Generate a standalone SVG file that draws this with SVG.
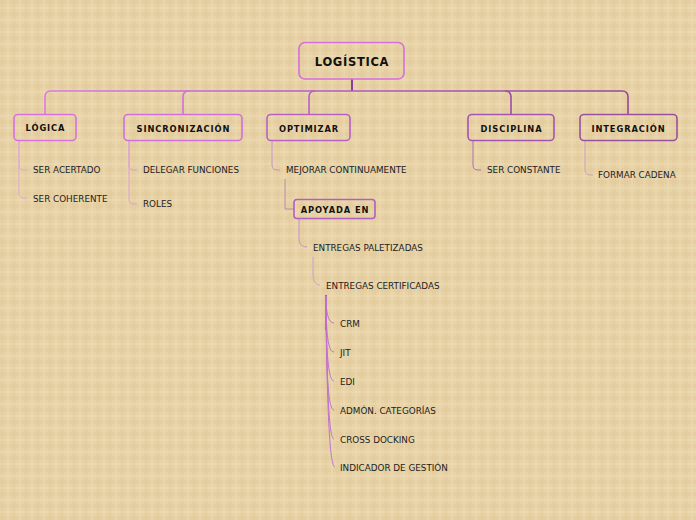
<svg xmlns="http://www.w3.org/2000/svg" width="696" height="520" viewBox="0 0 696 520">
<defs>
<pattern id="bg" width="12" height="12" patternUnits="userSpaceOnUse">
<rect width="12" height="12" fill="#e8d3a7"/>
<rect x="0" y="0" width="4" height="12" fill="#d8bf90" opacity="0.22"/>
<rect x="0" y="0" width="12" height="4" fill="#d8bf90" opacity="0.22"/>
<rect x="7" y="0" width="2" height="12" fill="#efdeb8" opacity="0.35"/>
<rect x="0" y="7" width="12" height="2" fill="#efdeb8" opacity="0.35"/>
</pattern>
<linearGradient id="main" gradientUnits="userSpaceOnUse" x1="45" y1="0" x2="628" y2="0">
<stop offset="0" stop-color="#dc78ea"/>
<stop offset="0.45" stop-color="#b45cc8"/>
<stop offset="1" stop-color="#93479f"/>
</linearGradient>
<style>
.bx{fill:none;stroke-width:1.6}
.t{font-family:"DejaVu Sans",Verdana,sans-serif;font-weight:bold;font-size:8.3px;letter-spacing:0.9px;fill:#111;text-anchor:middle;dominant-baseline:central}
.s{font-family:"DejaVu Sans",Verdana,sans-serif;font-size:8.8px;fill:#222;dominant-baseline:central}
.c{fill:none;stroke-width:1}
</style>
</defs>
<rect width="696" height="520" fill="url(#bg)"/>

<g id="connectors">
<path d="M352,79 V91" stroke="#8a3f98" stroke-width="2" fill="none"/>
<path d="M45,114 V97 Q45,91 51,91 H622 Q628,91 628,97 V114" stroke="url(#main)" stroke-width="1.6" fill="none"/>
<path d="M183,114 V97 Q183,91 189,91" stroke="#d070e0" stroke-width="1.6" fill="none"/>
<path d="M309,114 V97 Q309,91 315,91" stroke="#b85ec8" stroke-width="1.6" fill="none"/>
<path d="M511,114 V97 Q511,91 505,91" stroke="#9c4ca8" stroke-width="1.6" fill="none"/>

<path class="c" stroke="#e0a6d6" d="M19,140 V165 Q19,170 24,170 H27"/>
<path class="c" stroke="#e0a6d6" d="M19,140 V193 Q19,198 24,198 H27"/>
<path class="c" stroke="#d8a0d0" d="M129,140 V165 Q129,170 134,170 H137"/>
<path class="c" stroke="#d8a0d0" d="M129,140 V199 Q129,204 134,204 H137"/>
<path class="c" stroke="#c890c8" d="M272,140 V165 Q272,170 277,170 H280"/>
<path class="c" stroke="#b888a8" d="M285,179 V209 H294"/>
<path class="c" stroke="#cc8ed0" d="M299,219 V240 Q300,247 307,247"/>
<path class="c" stroke="#d0a0d0" d="M313,257 V276 Q314,285 320,285"/>
<path fill="none" stroke="#b452cc" stroke-width="2" d="M326,295 V330"/>
<path class="c" stroke="#c070d0" d="M326,296 C326,312 328,323 334,323"/>
<path class="c" stroke="#c070d0" d="M326,296 C326,335 328,352 334,352"/>
<path class="c" stroke="#c070d0" d="M326,296 C326,360 329,381 334,381"/>
<path class="c" stroke="#c070d0" d="M326,296 C326,385 329,410 334,410"/>
<path class="c" stroke="#c070d0" d="M326,296 C327,410 330,439 334,439"/>
<path class="c" stroke="#c070d0" d="M326,296 C327,435 331,467 335,467"/>
<path class="c" stroke="#b070a8" d="M473,140 V165 Q473,170 478,170 H481"/>
<path class="c" stroke="#c8a0b8" d="M585,140 V169 Q585,175 590,175 H593"/>
</g>

<g id="root">
<rect class="bx" x="299" y="42.5" width="105" height="36.5" rx="6" stroke="#d86ee0" stroke-width="2.2"/>
<text class="t" x="352" y="62" style="font-size:11.5px;letter-spacing:0.7px">LOGÍSTICA</text>
</g>
<g id="logica">
<rect class="bx" x="14" y="114.5" width="62" height="26" rx="4" stroke="#d870e4"/>
<text class="t" x="45.5" y="128">LÓGICA</text>
</g>
<g id="sincronizacion">
<rect class="bx" x="124" y="114.5" width="118" height="26" rx="4" stroke="#d070e0"/>
<text class="t" x="183.5" y="129">SINCRONIZACIÓN</text>
</g>
<g id="optimizar">
<rect class="bx" x="267" y="114.5" width="83" height="26" rx="4" stroke="#b660c8"/>
<text class="t" x="309" y="129">OPTIMIZAR</text>
</g>
<g id="disciplina">
<rect class="bx" x="468" y="114.5" width="86" height="26" rx="4" stroke="#a454b4"/>
<text class="t" x="511.5" y="129">DISCIPLINA</text>
</g>
<g id="integracion">
<rect class="bx" x="580" y="114.5" width="97" height="26" rx="4" stroke="#98509f"/>
<text class="t" x="628.5" y="129">INTEGRACIÓN</text>
</g>
<g id="apoyada">
<rect class="bx" x="294" y="199.5" width="81" height="19" rx="3" stroke="#b060c0"/>
<text class="t" x="335" y="209.5">APOYADA EN</text>
</g>

<g id="ser-acertado"><text class="s" x="33" y="170">SER ACERTADO</text></g>
<g id="ser-coherente"><text class="s" x="33" y="198.5">SER COHERENTE</text></g>
<g id="delegar"><text class="s" x="143" y="170">DELEGAR FUNCIONES</text></g>
<g id="roles"><text class="s" x="143" y="204">ROLES</text></g>
<g id="mejorar"><text class="s" x="286" y="170">MEJORAR CONTINUAMENTE</text></g>
<g id="paletizadas"><text class="s" x="313" y="247.5">ENTREGAS PALETIZADAS</text></g>
<g id="certificadas"><text class="s" x="326" y="285.5">ENTREGAS CERTIFICADAS</text></g>
<g id="crm"><text class="s" x="340" y="323.5">CRM</text></g>
<g id="jit"><text class="s" x="340" y="352.5">JIT</text></g>
<g id="edi"><text class="s" x="340" y="381.5">EDI</text></g>
<g id="admon"><text class="s" x="340" y="410.5">ADMÓN. CATEGORÍAS</text></g>
<g id="cross"><text class="s" x="340" y="439.5">CROSS DOCKING</text></g>
<g id="indicador"><text class="s" x="340" y="467.5">INDICADOR DE GESTIÓN</text></g>
<g id="ser-constante"><text class="s" x="487" y="170">SER CONSTANTE</text></g>
<g id="formar"><text class="s" x="598" y="175">FORMAR CADENA</text></g>
</svg>
